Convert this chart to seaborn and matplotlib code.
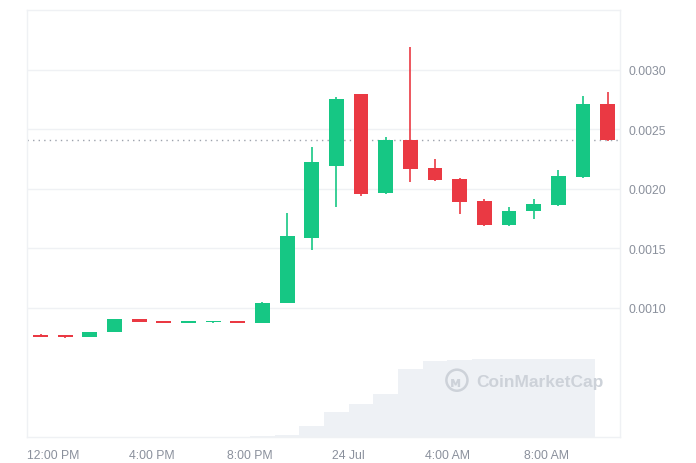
import matplotlib
matplotlib.use('Agg')
import matplotlib.pyplot as plt
import seaborn as sns
import numpy as np
import pandas as pd

# hourly candles, x = hours after 12:00 PM on 23 Jul (candles sit on the half hour)
hours = [-0.5, 0.5, 1.5, 2.5, 3.5, 4.5, 5.5, 6.5, 7.5, 8.5, 9.5, 10.5,
         11.5, 12.5, 13.5, 14.5, 15.5, 16.5, 17.5, 18.5, 19.5, 20.5, 21.5, 22.5]
opens = [0.000776, 0.000770, 0.000755, 0.000798, 0.000908, 0.000888, 0.000874, 0.000878,
         0.000888, 0.000874, 0.001042, 0.001588, 0.002193, 0.002798, 0.001966, 0.002412,
         0.002176, 0.002084, 0.001900, 0.001697, 0.001815, 0.001866, 0.002100, 0.002714]
closes = [0.000759, 0.000752, 0.000798, 0.000908, 0.000882, 0.000874, 0.000888, 0.000886,
          0.000874, 0.001042, 0.001605, 0.002227, 0.002756, 0.001958, 0.002412, 0.002168,
          0.002076, 0.001891, 0.001697, 0.001815, 0.001874, 0.002109, 0.002714, 0.002412]
highs = [0.000778, 0.000772, 0.000800, 0.000910, 0.000910, 0.000890, 0.000890, 0.000888,
         0.000890, 0.001053, 0.001800, 0.002353, 0.002773, 0.002798, 0.002437, 0.003193,
         0.002252, 0.002092, 0.001910, 0.001849, 0.001916, 0.002160, 0.002782, 0.002815]
lows = [0.000757, 0.000750, 0.000753, 0.000796, 0.000880, 0.000872, 0.000872, 0.000876,
        0.000872, 0.000872, 0.001040, 0.001487, 0.001849, 0.001941, 0.001958, 0.002059,
        0.002068, 0.001790, 0.001689, 0.001689, 0.001748, 0.001858, 0.002092, 0.002404]
volume = [0, 0, 0, 0, 0, 0, 0, 0, 0, 0.1, 0.2, 1.1,
          2.5, 3.3, 4.3, 6.8, 7.6, 7.7, 7.8, 7.8, 7.8, 7.8, 7.8, 0]

tick_pos = [0, 4, 8, 12, 16, 20]
tick_labels = ['12:00 PM', '4:00 PM', '8:00 PM', '24 Jul', '4:00 AM', '8:00 AM']
price_ticks = [0.0010, 0.0015, 0.0020, 0.0025, 0.0030]

UP = '#16c784'
DOWN = '#ea3943'
GRID = '#eff1f4'
TEXT = '#8a909c'

sns.set_theme(style='white')
plt.rcParams['font.family'] = ['Liberation Sans', 'DejaVu Sans']

df = pd.DataFrame({'hour': hours, 'open': opens, 'close': closes,
                   'high': highs, 'low': lows, 'volume': volume})
df['color'] = np.where(df['close'] >= df['open'], UP, DOWN)

fig = plt.figure(figsize=(6.96, 4.64), dpi=100)
ax = fig.add_axes([27 / 696, 26 / 464, 593 / 696, 427 / 464])
ax2 = ax.twinx()

# volume bars in the background
sns.barplot(data=df, x='hour', y='volume', ax=ax2, native_scale=True,
            width=1.0, color='#eef1f5', linewidth=0, saturation=1)
ax2.set_ylim(0, df['volume'].max() / 0.183)
ax2.set_yticks([])
ax2.set_ylabel('')
ax2.set_xlabel('')
for s in ax2.spines.values():
    s.set_visible(False)

ax.set_zorder(ax2.get_zorder() + 1)
ax.patch.set_visible(False)

# candles
ax.vlines(df['hour'], df['low'], df['high'], color=df['color'], lw=1.2, zorder=3)
body_bottom = np.minimum(df['open'], df['close'])
body_height = np.abs(df['close'] - df['open'])
ax.bar(df['hour'], body_height, bottom=body_bottom, width=0.6,
       color=df['color'], linewidth=0, zorder=4)

# current price line
ax.axhline(closes[-1], color='#9da3ad', lw=1, ls=(0, (1, 3)), zorder=2)

ax.set_xlim(-1.05, 23.0)
ax.set_ylim(-0.000084, 0.0035)
ax.set_xticks(tick_pos)
ax.set_xticklabels(tick_labels)
ax.set_yticks(price_ticks)
ax.set_yticklabels([f'{v:.4f}' for v in price_ticks])
ax.yaxis.tick_right()
ax.tick_params(axis='both', length=0, labelsize=8.8, labelcolor=TEXT)
ax.tick_params(axis='x', pad=9)
ax.tick_params(axis='y', pad=6)
ax.grid(axis='y', color=GRID, lw=1)
ax.grid(axis='x', visible=False)
for s in ax.spines.values():
    s.set_color(GRID)
    s.set_linewidth(1)

# watermark
ax.scatter([0.725], [0.133], s=230, facecolors='none', edgecolors='#cdd2d9',
           linewidths=1.8, transform=ax.transAxes, zorder=1)
ax.text(0.722, 0.128, 'ᴍ', transform=ax.transAxes, fontsize=10, color='#cdd2d9',
        ha='center', va='center', family=['DejaVu Sans'], fontweight='bold', zorder=1)
ax.text(0.757, 0.130, 'CoinMarketCap', transform=ax.transAxes, fontsize=12.5,
        color='#cdd2d9', ha='left', va='center', fontweight='bold', zorder=1)

fig.savefig('out.png', dpi=100, facecolor='white')
plt.close(fig)
